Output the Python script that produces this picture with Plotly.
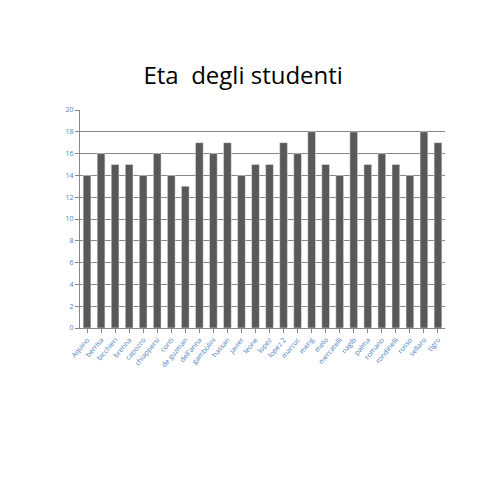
import plotly.graph_objects as go

names = ["Aquino","berrisa","bicchieri","brenna","capozzo","chiappersi","conti","de guzman","dell'anna","gambolini","hassan","javier","leone","lopez","lopez 2","marcuc","meng","melo","mercatelli","nagib","palma","romano","rondinelli","russo","sellaro","tigro"]
eta = [14,16,15,15,14,16,14,13,17,16,17,14,15,15,17,16,18,15,14,18,15,16,15,14,18,17]

fig = go.Figure(go.Bar(x=names, y=eta, marker_color="#595959", width=0.55))
fig.update_layout(
    width=480, height=480, paper_bgcolor="white", plot_bgcolor="white",
    margin=dict(l=72, r=43, t=102, b=160, autoexpand=False), showlegend=False,
    title=dict(text="Eta  degli studenti", x=0.49, xanchor="center", y=0.86, yanchor="middle",
               font=dict(family="Open Sans", size=24, color="black")),
)
fig.update_xaxes(tickangle=-50, automargin=False, tickfont=dict(family="Open Sans", size=7, color="#4f81bd"),
                 showline=True, linecolor="#868686", ticks="outside", ticklen=4, tickcolor="#868686")
fig.update_yaxes(range=[0,20], dtick=2, automargin=False, tickfont=dict(family="Open Sans", size=7, color="#4f81bd"),
                 showgrid=True, gridcolor="#868686", gridwidth=1, showline=True, linecolor="#868686",
                 ticks="outside", ticklen=4, tickcolor="#868686", zeroline=False)
fig.write_html("out.html")
